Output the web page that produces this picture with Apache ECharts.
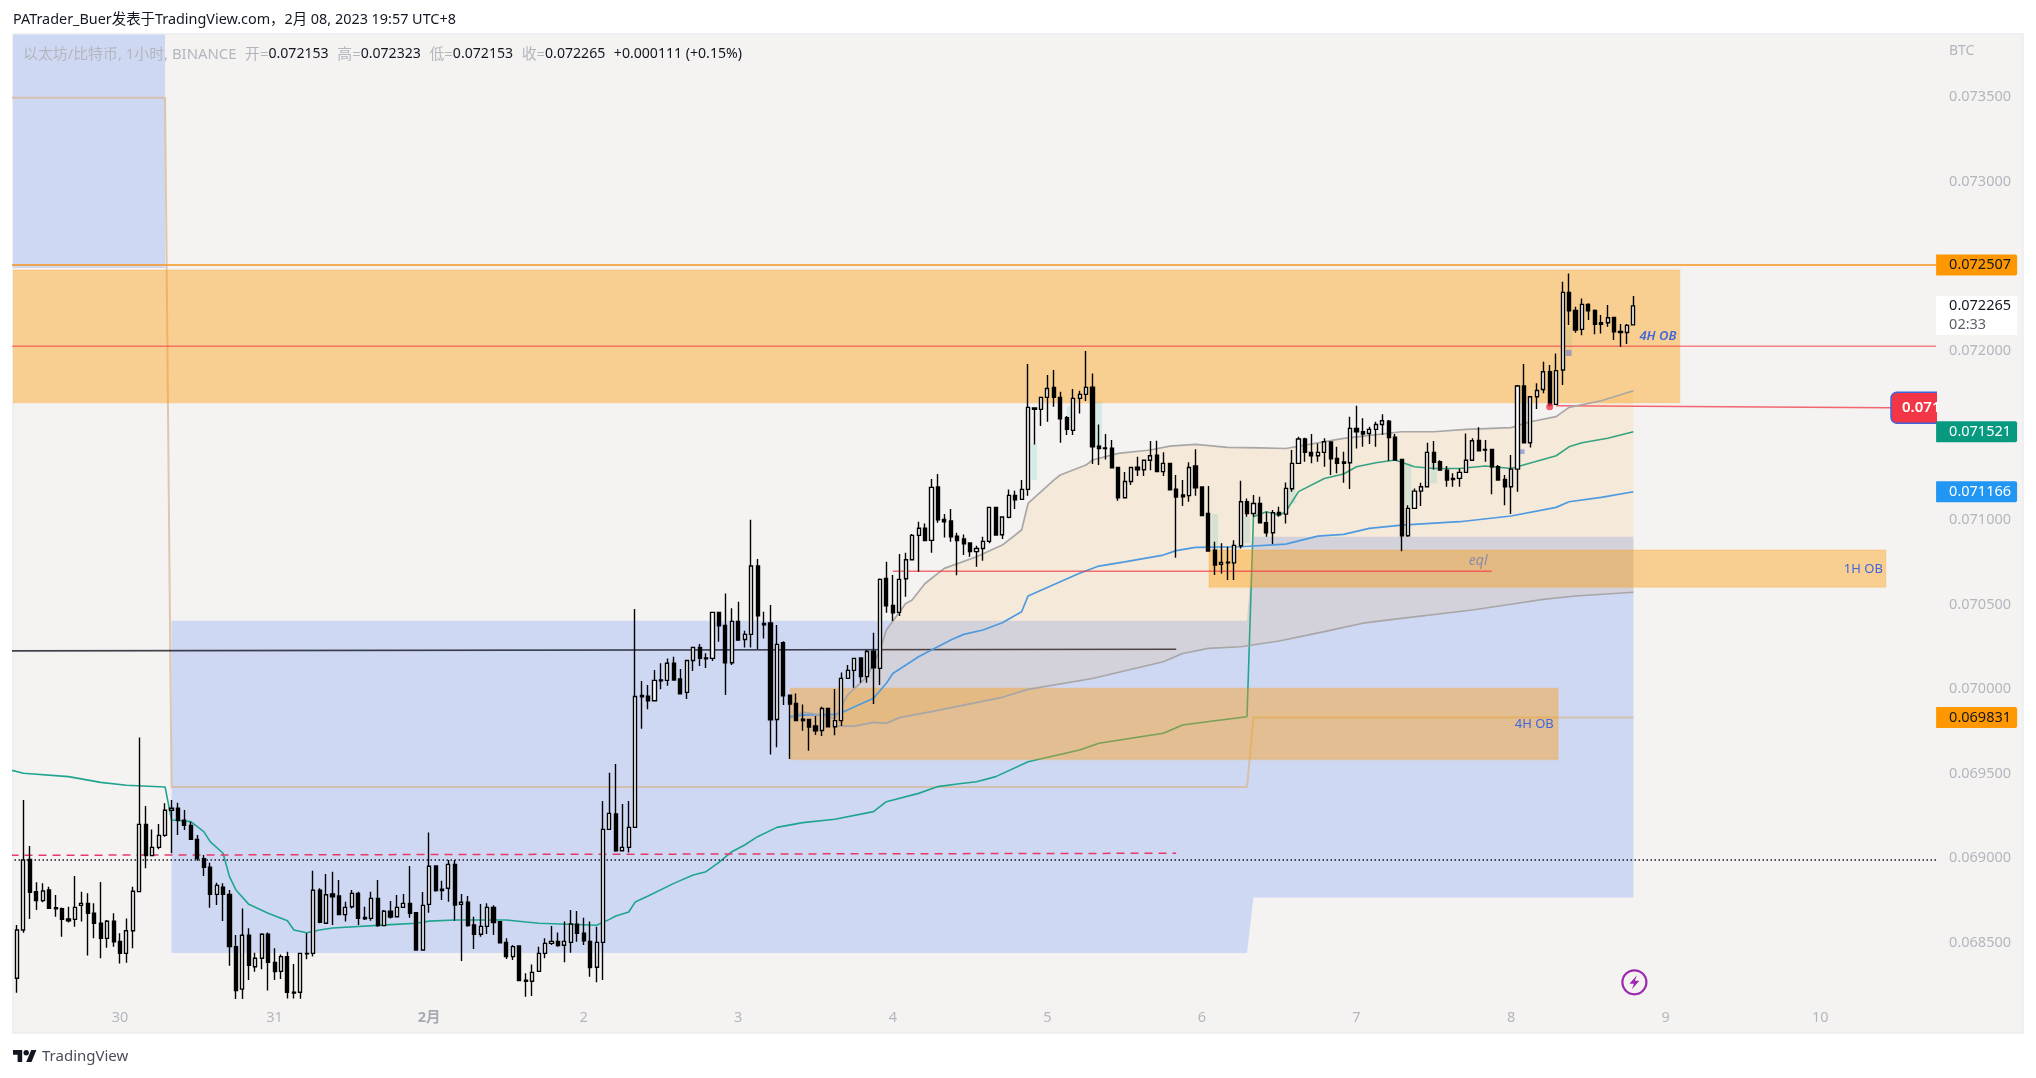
<!DOCTYPE html>
<html>
<head>
<meta charset="UTF-8">
<title>ETHBTC 1H</title>
<style>
  html, body { margin: 0; padding: 0; background: #fff; overflow: hidden; }
  #main { width: 2036px; height: 1078px; }
</style>
</head>
<body>
<div id="main"></div>
<script src="https://cdn.jsdelivr.net/npm/echarts@6/dist/echarts.min.js"></script>
<script>
// all prices below are in millionths of BTC (72265 = 0.072265)
// hourly bars, bar 0 = 30 Jan 00:00, one day = 24 bars
var firstBar = -17;
var opens = [68167,68290,68575,68993,68802,68749,68812,68707,68701,68640,68638,68721,68733,68674,68615,68526,68627,
  68508,68437,68571,68802,69200,69015,69064,69135,69283,69295,69224,69194,69111,68997,68946,68786,68828,68786,68477,68226,68544,68358,68408,68550,68384,68331,68418,68207,68207,68437,68437,68810,68615,68788,68776,68666,68713,68792,68650,68644,68762,68601,68686,68654,68709,68733,68678,68457,68727,68954,68816,68822,68963,68727,68739,68605,68550,68597,68709,68625,68502,68418,68481,68278,68272,68331,68437,68496,68508,68485,68502,68609,68556,68508,68355,68502,69170,69261,69044,69064,69182,
  69962,69958,69931,70053,70051,70152,70059,69980,70169,70246,70183,70181,70453,70376,70155,70400,70293,70323,70727,70388,70390,69820,70274,69964,69915,69822,69820,69781,69755,69885,69777,69813,70063,70110,70183,70073,70224,70122,70654,70494,70453,70652,70764,70908,70950,70879,71194,71003,70993,70904,70887,70863,70812,70831,70873,71074,70912,71015,71145,71121,71180,71661,71653,71724,71783,71724,71604,71529,71718,71742,71785,71436,71425,71423,71310,71131,71227,71312,71296,71352,71383,71285,71334,71182,71147,71143,71318,71194,71038,70821,70737,70750,70746,70847,71107,71038,71097,70983,70924,71044,71034,71184,71334,71478,71399,71379,71399,71460,71363,71342,71338,71541,71521,71511,71535,71564,71584,71488,71357,70906,71068,71170,71196,71399,71344,71294,71245,71245,71281,71352,71470,71417,71417,71314,71239,71196,71300,71791,71456,71728,71771,71876,71683,71886,72345,72238,72126,72274,72238,72156,72165,72197,72114,72108,72153];
var closes = [68290,68575,68989,68798,68749,68806,68703,68701,68638,68630,68709,68733,68674,68615,68526,68627,68506,
  68437,68571,68804,69200,69015,69064,69135,69283,69295,69224,69194,69111,68997,68946,68786,68839,68786,68477,68217,68544,68366,68408,68550,68384,68329,68418,68207,68203,68437,68435,68810,68621,68784,68772,68666,68709,68792,68644,68642,68762,68601,68686,68652,68709,68733,68674,68457,68721,68952,68808,68808,68963,68723,68739,68601,68550,68597,68709,68619,68500,68418,68477,68276,68272,68325,68437,68496,68508,68483,68508,68611,68556,68512,68353,68502,69170,69265,69044,69064,69182,69956,
  69954,69931,70051,70049,70152,70053,69972,70169,70246,70181,70179,70453,70374,70155,70400,70289,70323,70727,70433,70380,69818,70264,69960,69911,69813,69813,69775,69753,69885,69777,69813,70063,70110,70181,70073,70222,70126,70648,70492,70451,70648,70764,70908,70950,70877,71192,71001,70989,70900,70877,70859,70812,70831,70873,71074,70910,71017,71145,71119,71180,71665,71653,71724,71777,71724,71598,71535,71718,71742,71783,71432,71421,71421,71308,71131,71227,71310,71296,71352,71379,71285,71334,71178,71135,71137,71310,71190,71025,70816,70733,70748,70746,70849,71107,71038,71097,70983,70924,71042,71030,71186,71334,71478,71399,71379,71399,71462,71361,71334,71334,71541,71521,71507,71535,71564,71586,71486,71354,70906,71068,71170,71196,71399,71340,71294,71235,71239,71281,71352,71468,71409,71413,71314,71235,71196,71300,71791,71456,71728,71765,71876,71679,71882,72345,72236,72122,72274,72236,72156,72165,72195,72112,72108,72150,72265];
var highs = [68290,68605,69344,69072,68857,68851,68831,68782,68709,68713,68895,68802,68792,68733,68859,68634,68674,
  68556,68644,68831,69714,69308,69170,69202,69324,69344,69328,69285,69216,69137,69019,68973,68855,68851,68812,68546,68703,68585,68441,68556,68560,68467,68431,68447,68374,68437,68556,68926,68822,68906,68920,68871,68743,68812,68802,68713,68802,68871,68693,68747,68782,68788,68954,68678,68800,69151,68954,68867,68989,68989,68788,68776,68654,68729,68733,68721,68625,68526,68487,68481,68319,68372,68477,68526,68599,68561,68625,68693,68688,68648,68625,68595,69338,69505,69557,69320,69338,70473,
  70047,70023,70112,70152,70181,70191,70118,70171,70246,70266,70211,70453,70453,70565,70477,70516,70345,71000,70768,70457,70496,70378,70283,69964,69974,69909,69820,69840,69895,69885,70000,70098,70142,70181,70185,70230,70333,70654,70753,70674,70798,70806,70916,70989,70979,71241,71271,71034,71064,70924,70914,70865,70847,70900,71074,71074,71019,71180,71172,71235,71921,71665,71724,71856,71886,71758,71614,71773,71763,71998,71866,71564,71507,71472,71314,71283,71314,71373,71353,71466,71468,71399,71334,71265,71235,71340,71417,71194,71200,70871,70861,70841,70880,71231,71127,71147,71137,71048,71058,71078,71221,71413,71491,71485,71507,71452,71482,71462,71432,71403,71610,71675,71600,71551,71580,71625,71590,71507,71357,71087,71186,71219,71456,71466,71353,71318,71275,71304,71511,71482,71547,71472,71417,71324,71265,71383,71797,71921,71732,71807,71935,71915,71984,72408,72457,72260,72309,72280,72244,72211,72270,72197,72158,72158,72323];
var lows = [68167,68205,68559,68640,68693,68739,68699,68654,68536,68619,68595,68625,68424,68526,68408,68471,68477,
  68378,68382,68467,68802,68940,69015,69052,69127,69029,69137,69166,69107,68985,68895,68707,68723,68628,68364,68167,68167,68280,68329,68343,68217,68280,68286,68171,68171,68169,68402,68418,68615,68611,68605,68664,68625,68703,68605,68634,68630,68595,68601,68644,68654,68709,68648,68457,68457,68678,68802,68753,68743,68630,68392,68595,68463,68536,68552,68546,68496,68404,68398,68276,68181,68185,68331,68408,68487,68477,68384,68441,68506,68487,68299,68266,68280,69170,69038,69044,69034,69182,
  69765,69881,69927,69999,70019,70049,69970,69941,70106,70136,70124,70165,70280,69964,70142,70285,70246,70246,70236,70299,69613,69655,69905,69586,69813,69753,69635,69728,69722,69777,69726,69781,70063,70008,70037,70037,69911,70023,70451,70402,70431,70546,70762,70693,70875,70806,70983,70896,70871,70672,70792,70782,70723,70758,70861,70910,70887,71009,71064,71121,71143,71446,71555,71580,71669,71456,71501,71501,71629,71702,71330,71324,71357,71304,71113,71131,71206,71259,71259,71294,71285,71259,71178,70776,71082,71107,71143,71023,70812,70674,70683,70644,70644,70831,71018,71018,70979,70900,70857,71018,70979,71166,71334,71344,71334,71344,71314,71265,71275,71219,71182,71422,71432,71448,71432,71501,71350,71350,70815,70900,71068,71082,71192,71298,71290,71196,71196,71196,71279,71350,71407,71344,71152,71235,71087,71034,71166,71452,71428,71655,71748,71669,71683,71797,72152,72106,72092,72181,72098,72102,72142,72063,72023,72039,72153];

// VWAP style lines
var tealX = [-17,-15,-8,-3,1,7,8,11,13,14,16,17,18,20,23,26,27,29,31,33,42,46,48,52,60,65,74,76,77,79,80,82,86,89,91,93,95,97,99,102,106,111,117,119,124,127,130,133,136,141,149,152,162,165,170,175,176,178,180,181,183,187,190,192,195,198,201,204,208,212,216,223,225,227,231,235];
var tealY = [69521,69502,69482,69448,69431,69421,69226,69216,69157,69098,69029,68891,68812,68727,68674,68630,68575,68559,68575,68587,68607,68615,68628,68634,68634,68615,68603,68638,68658,68682,68741,68776,68851,68901,68920,68975,69038,69078,69127,69182,69210,69230,69275,69334,69383,69423,69438,69452,69482,69570,69639,69679,69738,69787,69812,69836,71019,71048,71028,71048,71167,71245,71271,71314,71338,71354,71314,71304,71304,71318,71304,71379,71432,71456,71482,71521];
var blueX = [104,106,111,112,117,119,120,124,126,129,131,134,137,140,141,146,149,152,156,162,164,167,174,181,186,190,194,199,208,216,223,225,230,235];
var blueY = [69837,69846,69850,69860,69945,70034,70092,70191,70230,70290,70323,70349,70392,70457,70550,70634,70684,70727,70752,70792,70818,70837,70841,70857,70904,70914,70950,70969,70989,71023,71074,71107,71133,71166];
var upperX = [104,106,108,111,113,116,118,119,122,123,125,128,133,137,140,141,145,146,150,151,155,160,163,167,172,177,181,190,199,204,209,216,219,223,225,230,235];
var upperY = [69826,69862,69852,69826,69965,70073,70230,70349,70506,70526,70624,70713,70782,70851,70940,71097,71235,71265,71324,71354,71393,71413,71436,71446,71428,71426,71422,71482,71521,71521,71535,71545,71580,71610,71665,71704,71763];
var lowerX = [111,114,117,119,121,126,131,137,141,151,162,165,169,174,180,187,193,199,210,217,221,226,235];
var lowerY = [69781,69781,69803,69797,69831,69866,69905,69951,69998,70062,70161,70210,70240,70250,70284,70339,70389,70418,70467,70507,70530,70550,70572];
var tanX = [-17,7,8,175,176,235];
var tanY = [73496,73496,69420,69420,69831,69831];

// blue band: top left block and main body
var leftBlockX = [-17,7];
var leftBlockY = [72489,74000];
var bandX = [8,175,176,235];
var bandTop = [70404,70404,70900,70900];
var bandBottom = [68439,68439,68768,68768];

// order blocks
var obLeft = [-17,169.1,104.1];
var obRight = [242.2,274.2,223.3];
var obTop = [72477,70822,70004];
var obBottom = [71692,70601,69584];

// pale imbalance strips next to big candles
var gapLeft = [141.5,147,151.5,169.5,174.5,181.5,199.5,203.5,224.5];
var gapRight = [142.4,148,152.5,170.5,175.5,182.5,200.5,204.5,225.5];
var gapTop = [71452,71670,71700,71035,71019,71235,71333,71333,72142];
var gapBottom = [71235,71600,71432,70820,70861,71097,71078,71215,72004];
var markLeft = [224.5,217.4];
var markRight = [225.4,218.1];
var markTop = [72004,71418];
var markBottom = [71969,71389];

var noteX = [238.8,210.9,270.7,219.6];
var notePrice = [72083,70758,70709,69793];
var noteText = ['4H OB','eql','1H OB','4H OB'];

var tagPrices = [72507,71521,71166,69831];
var tagText = ['0.072507','0.071521','0.071166','0.069831'];
var lastPrice = 72265;
var lastText = ['0.072265','02:33'];
var alertLabel = '0.071';

var priceTicks = [68500,69000,69500,70000,70500,71000,72000,73000,73500];
var dayTicks = [0,24,48,72,96,120,144,168,192,216,240,264];
var dayLabels = ['30','31','2月','2','3','4','5','6','7','8','9','10'];

var UI_FONT = "'Noto Sans','Noto Sans CJK SC',sans-serif";
var GRID_RIGHT = 1936.1;

function px(v) { return v / 1e6; }
function pairs(xs, ys) { return xs.map(function (x, i) { return [x, px(ys[i])]; }); }

function lineSeries(name, xs, ys, color, width, z, type) {
  return {
    type: 'line', name: name, data: pairs(xs, ys), symbol: 'none', z: z, silent: true,
    lineStyle: { color: color, width: width, type: type || 'solid' }
  };
}

function boxSeries(name, l, r, t, b, z, fill, stroke) {
  return {
    type: 'custom', name: name, z: z, silent: true, clip: true,
    encode: { x: [0, 1], y: [2, 3] },
    data: l.map(function (x, i) { return [x, r[i], px(b[i]), px(t[i])]; }),
    renderItem: function (params, api) {
      var a = api.coord([api.value(0), api.value(3)]);
      var c = api.coord([api.value(1), api.value(2)]);
      return {
        type: 'rect',
        shape: { x: a[0], y: a[1], width: c[0] - a[0], height: c[1] - a[1] },
        style: { fill: fill, stroke: stroke || null, lineWidth: 2 }
      };
    }
  };
}

function polySeries(name, points, z, fill) {
  return {
    type: 'custom', name: name, z: z, silent: true, clip: true,
    data: [[0, 0]],
    renderItem: function (params, api) {
      return {
        type: 'polygon',
        shape: { points: points.map(function (p) { return api.coord(p); }) },
        style: { fill: fill }
      };
    }
  };
}

var bandPoints = pairs(bandX, bandTop).concat(pairs(bandX, bandBottom).reverse());
var peachUpper = pairs(upperX, upperY).filter(function (p) { return p[0] >= 111; });
var peachPoints = peachUpper.concat(pairs(lowerX, lowerY).reverse());

var candles = opens.map(function (o, i) {
  return [firstBar + i, px(o), px(closes[i]), px(lows[i]), px(highs[i])];
});

var series = [
  boxSeries('leftBlock', [leftBlockX[0]], [leftBlockX[1]], [leftBlockY[1]], [leftBlockY[0]], 1, '#cfd8f3'),
  polySeries('band', bandPoints, 1, '#cfd8f3'),

  lineSeries('tan', tanX, tanY, 'rgba(214,186,150,0.75)', 2, 2),
  lineSeries('teal', tealX, tealY, '#1fa58f', 1.6, 2),
  lineSeries('black', [-17, 164], [70226, 70235], 'rgba(19,23,34,0.8)', 1.7, 2),
  lineSeries('pinkDash', [-17, 164], [69017, 69029], '#e8386a', 1.5, 2, [8, 6]),
  lineSeries('dotted', [-17, 282], [68989, 68989], '#131722', 1.5, 2, [1.5, 2.5]),
  lineSeries('level', [-17, 282], [72507, 72507], '#f7941d', 1.5, 2),
  lineSeries('redAlert', [223, 275], [71675, 71663], 'rgba(242,54,69,0.75)', 1.5, 2),

  polySeries('peach', peachPoints, 3, 'rgba(255,152,0,0.1)'),
  boxSeries('gaps', gapLeft, gapRight, gapTop, gapBottom, 3, 'rgba(0,188,170,0.13)'),
  boxSeries('orderBlocks', obLeft, obRight, obTop, obBottom, 3, 'rgba(255,152,0,0.4)', 'rgba(255,152,0,0.12)'),

  lineSeries('blue', blueX, blueY, '#4e9adf', 1.7, 3.5),
  lineSeries('upper', upperX, upperY, '#a8a6a6', 1.7, 3.5),
  lineSeries('lower', lowerX, lowerY, '#a8a6a6', 1.7, 3.5),
  lineSeries('redTop', [-17, 282], [72026, 72026], 'rgba(242,54,69,0.6)', 1.5, 3.5),
  lineSeries('redEql', [120, 213], [70696, 70696], 'rgba(242,54,69,0.7)', 1.5, 3.5),
  boxSeries('marks', markLeft, markRight, markTop, markBottom, 3.5, 'rgba(63,90,220,0.45)'),

  {
    type: 'scatter', name: 'alertDot', data: [[222, px(71669)]], symbolSize: 7, z: 5, silent: true,
    itemStyle: { color: '#f23645' }
  },
  {
    type: 'candlestick', name: 'ETHBTC', data: candles, barWidth: 3.6, z: 4, silent: true, clip: true,
    itemStyle: {
      color: '#ffffff', color0: '#000000', borderColor: '#000000', borderColor0: '#000000',
      borderColorDoji: '#000000', borderWidth: 1.4
    }
  },
  {
    type: 'custom', name: 'notes', z: 6, silent: true, clip: true,
    data: noteX.map(function (x, i) { return [x, px(notePrice[i]), i]; }),
    renderItem: function (params, api) {
      var p = api.coord([api.value(0), api.value(1)]);
      var i = api.value(2);
      var italic = i < 2;
      return {
        type: 'text', x: p[0], y: p[1],
        style: {
          text: noteText[i], align: 'center', verticalAlign: 'middle',
          fill: i === 1 ? '#8f8aa5' : '#3f66dc',
          font: (italic ? 'italic ' : '') + (i === 0 ? '600 ' : '') + (i === 1 ? '14px ' : '13px ') + UI_FONT
        }
      };
    }
  },
  {
    // red alert label, runs into the price scale and gets cut there
    type: 'custom', name: 'alertLabel', z: 6, silent: true, clip: true,
    data: [[275, px(71663)]],
    renderItem: function (params, api) {
      var p = api.coord([api.value(0), api.value(1)]);
      return {
        type: 'group',
        children: [
          {
            type: 'rect',
            shape: { x: p[0], y: p[1] - 15.5, width: 70, height: 31, r: 6 },
            style: { fill: '#f23645', stroke: '#3e63dd', lineWidth: 1.5 }
          },
          {
            type: 'text', x: p[0] + 11, y: p[1],
            style: { text: alertLabel, fill: '#ffffff', verticalAlign: 'middle', font: '600 15px ' + UI_FONT }
          }
        ]
      };
    }
  },
  {
    type: 'custom', name: 'priceTags', z: 7, silent: true, clip: false,
    data: tagPrices.map(function (p, i) { return [0, px(p), i]; }),
    renderItem: function (params, api) {
      var y = api.coord([0, api.value(1)])[1];
      var i = api.value(2);
      var fills = ['#ff9800', '#089981', '#2196f3', '#ff9800'];
      var inks = ['#131722', '#ffffff', '#ffffff', '#131722'];
      return {
        type: 'group',
        children: [
          {
            type: 'rect', shape: { x: GRID_RIGHT, y: y - 10.5, width: 81, height: 21, r: [0, 2, 2, 0] },
            style: { fill: fills[i] }
          },
          {
            type: 'text', x: GRID_RIGHT + 13, y: y,
            style: { text: tagText[i], fill: inks[i], verticalAlign: 'middle', font: '14.5px ' + UI_FONT }
          }
        ]
      };
    }
  },
  {
    type: 'custom', name: 'lastPrice', z: 7, silent: true, clip: false,
    data: [[0, px(lastPrice)]],
    renderItem: function (params, api) {
      var y = api.coord([0, api.value(1)])[1];
      return {
        type: 'group',
        children: [
          {
            type: 'rect', shape: { x: GRID_RIGHT, y: y - 10, width: 81, height: 39 },
            style: { fill: '#ffffff' }
          },
          {
            type: 'text', x: GRID_RIGHT + 13, y: y,
            style: { text: lastText[0], fill: '#131722', verticalAlign: 'middle', font: '14.5px ' + UI_FONT }
          },
          {
            type: 'text', x: GRID_RIGHT + 13, y: y + 19,
            style: { text: lastText[1], fill: '#5d606b', verticalAlign: 'middle', font: '14.5px ' + UI_FONT }
          }
        ]
      };
    }
  }
];

var option = {
  animation: false,
  backgroundColor: '#ffffff',
  textStyle: { fontFamily: UI_FONT },
  title: [
    {
      text: 'PATrader_Buer发表于TradingView.com，2月 08, 2023 19:57 UTC+8',
      left: 13, top: 13, padding: 0,
      textStyle: { fontSize: 14.4, fontWeight: 'normal', color: '#131722', fontFamily: UI_FONT }
    },
    {
      text: '{g|以太坊/比特币, 1小时, BINANCE}{s|   }{g|开=}{k|0.072153}{s|   }{g|高=}{k|0.072323}{s|   }{g|低=}{k|0.072153}{s|   }{g|收=}{k|0.072265}{s|   }{k|+0.000111 (+0.15%)}',
      left: 23, top: 47, padding: 0,
      textStyle: {
        fontFamily: UI_FONT, fontWeight: 'normal',
        rich: {
          g: { fontSize: 14.9, color: '#b4b6bd', fontFamily: UI_FONT },
          k: { fontSize: 14.1, color: '#131722', fontFamily: UI_FONT },
          s: { fontSize: 11, color: '#b4b6bd', fontFamily: UI_FONT }
        }
      }
    },
    {
      text: 'BTC', left: 1949, top: 44, padding: 0,
      textStyle: { fontSize: 14, fontWeight: 'normal', color: '#b4b6bd', fontFamily: UI_FONT }
    },
    {
      text: 'TradingView', left: 42, top: 1049, padding: 0,
      textStyle: { fontSize: 15, fontWeight: 'normal', color: '#4a4d57', fontFamily: UI_FONT }
    }
  ],
  grid: { left: 13.1, top: 34.4, width: 1923, height: 976, containLabel: false },
  xAxis: {
    type: 'value', min: -16.6, max: 282,
    axisLine: { show: false }, axisTick: { show: false }, splitLine: { show: false },
    axisLabel: {
      customValues: dayTicks, margin: 0, fontSize: 14.5, color: '#b4b6bd', fontFamily: UI_FONT,
      rich: { b: { fontSize: 14.5, fontWeight: 'bold', color: '#a8aab2', fontFamily: UI_FONT } },
      formatter: function (v) {
        var t = dayLabels[dayTicks.indexOf(v)];
        return t === '2月' ? '{b|' + t + '}' : t;
      }
    }
  },
  yAxis: {
    type: 'value', position: 'right', min: 0.0681, max: 0.07387, scale: true,
    axisLine: { show: false }, axisTick: { show: false }, splitLine: { show: false },
    axisLabel: {
      customValues: priceTicks.map(px), margin: 13, fontSize: 14.5, color: '#b4b6bd', fontFamily: UI_FONT,
      formatter: function (v) { return v.toFixed(6); }
    }
  },
  graphic: {
    elements: [
      {
        type: 'rect', z: -10, silent: true,
        shape: { x: 13, y: 34, width: 2010, height: 999 },
        style: { fill: '#f4f3f2', stroke: '#ecedf1', lineWidth: 1.5 }
      },
      {
        // fast loading flash badge
        type: 'group', z: 20, silent: true, x: 1634.4, y: 982.3,
        children: [
          { type: 'circle', shape: { cx: 0, cy: 0, r: 12 }, style: { fill: 'none', stroke: '#9c27b0', lineWidth: 2.2 } },
          { type: 'polygon', shape: { points: [[2.5, -7], [-5, 1.5], [-0.5, 1.5], [-2.5, 7], [5, -1.5], [0.5, -1.5]] }, style: { fill: '#9c27b0' } }
        ]
      },
      {
        // TV logo
        type: 'group', z: 20, silent: true, x: 13, y: 1047.4,
        children: [
          { type: 'polygon', shape: { points: [[9.2, 14.5], [4.6, 14.5], [4.6, 7.3], [0, 7.3], [0, 2.6], [9.2, 2.6]] }, style: { fill: '#131722' } },
          { type: 'polygon', shape: { points: [[18.5, 14.5], [13.2, 14.5], [18.2, 2.6], [23.4, 2.6]] }, style: { fill: '#131722' } },
          { type: 'circle', shape: { cx: 13.2, cy: 5.3, r: 2.7 }, style: { fill: '#131722' } }
        ]
      }
    ]
  },
  series: series
};

var chart = echarts.init(document.getElementById('main'), null, { renderer: 'canvas' });
chart.setOption(option);
</script>
</body>
</html>
